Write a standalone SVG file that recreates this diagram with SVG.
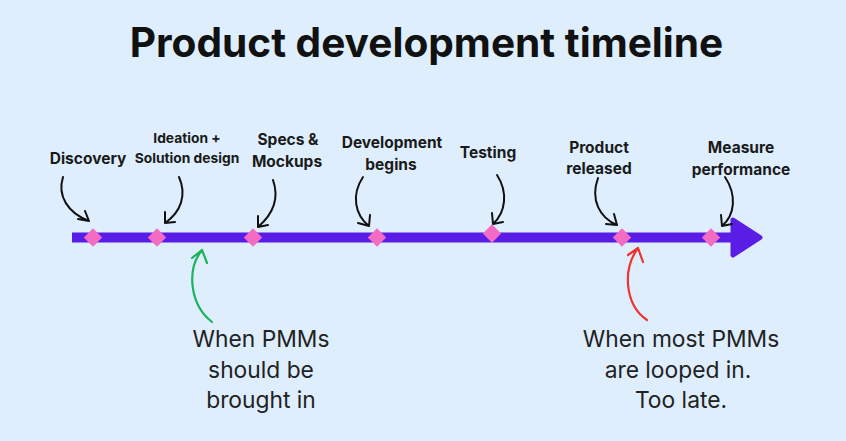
<svg xmlns="http://www.w3.org/2000/svg" width="846" height="441" viewBox="0 0 846 441">
<defs>
<style>
.title{font-family:Inter,"Noto Sans",sans-serif;font-weight:700;font-size:40.6px;fill:#111;text-anchor:middle}
.lbl{font-family:Inter,"Noto Sans",sans-serif;font-weight:700;font-size:15.5px;fill:#1a1a1a;text-anchor:middle}
.lbl2{font-family:Inter,"Noto Sans",sans-serif;font-weight:700;font-size:13.8px;fill:#1a1a1a;text-anchor:middle}
.note{font-family:Inter,"Noto Sans",sans-serif;font-weight:400;font-size:22.8px;fill:#222;text-anchor:middle}
.k{fill:none;stroke:#111;stroke-width:2;stroke-linecap:round;stroke-linejoin:round}
.dia{fill:#F46BC4}
</style>
</defs>
<rect width="846" height="441" fill="#DEEEFD"/>
<text class="title" x="426.5" y="57">Product development timeline</text>
<g id="timeline">
<rect x="72" y="232.5" width="666" height="10" fill="#5A1DE6"/>
<polygon points="733,220 760,237.5 733,255" fill="#5A1DE6" stroke="#5A1DE6" stroke-width="5" stroke-linejoin="round"/>
</g>
<g id="connectors">
<path class="k" d="M63,177 C57,196 68,213 89,221 M78,219 L89,221 L85,211"/>
<path class="k" d="M179,177 C187,195 181,212 165,223 M165,212 L165,223 L175,222"/>
<path class="k" d="M273,180 C280,200 272,215 258,227 M258,216 L258,227 L268,225"/>
<path class="k" d="M363,177 C351,195 355,215 369,226 M358,223 L369,226 L370,215"/>
<path class="k" d="M497,175 C508,192 506,212 493,224 M492,213 L493,224 L503,222"/>
<path class="k" d="M598,178 C590,200 600,218 617,225 M606,224 L617,225 L614,214"/>
<path class="k" d="M725,177 C737,195 735,215 722,226 M721,215 L722,226 L732,224"/>
<path d="M212,322 C190,305 186,270 202,250 M192,258 L202,250 L207,263" fill="none" stroke="#1DB35B" stroke-width="2.2" stroke-linecap="round" stroke-linejoin="round"/>
<path d="M647,320 C625,305 622,270 638,248 M628,255 L638,248 L643,262" fill="none" stroke="#EE3333" stroke-width="2.2" stroke-linecap="round" stroke-linejoin="round"/>
</g>
<g id="discovery"><rect class="dia" x="86.5" y="231" width="13" height="13" transform="rotate(45 93 237.5)"/><text class="lbl" x="88" y="164">Discovery</text></g>
<g id="ideation"><rect class="dia" x="150.5" y="231" width="13" height="13" transform="rotate(45 157 237.5)"/><text class="lbl2" x="187" y="143">Ideation +</text><text class="lbl2" x="187" y="163">Solution design</text></g>
<g id="specs"><rect class="dia" x="246.5" y="231" width="13" height="13" transform="rotate(45 253 237.5)"/><text class="lbl" x="288" y="145">Specs &amp;</text><text class="lbl" x="287" y="167">Mockups</text></g>
<g id="development"><rect class="dia" x="370.5" y="231" width="13" height="13" transform="rotate(45 377 237.5)"/><text class="lbl" x="392" y="148">Development</text><text class="lbl" x="391" y="170">begins</text></g>
<g id="testing"><rect class="dia" x="485.5" y="227" width="13" height="13" transform="rotate(45 492 233.5)"/><text class="lbl" x="488" y="158">Testing</text></g>
<g id="released"><rect class="dia" x="615.5" y="231" width="13" height="13" transform="rotate(45 622 237.5)"/><text class="lbl" x="599" y="153">Product</text><text class="lbl" x="599" y="174">released</text></g>
<g id="measure"><rect class="dia" x="704.5" y="231" width="13" height="13" transform="rotate(45 711 237.5)"/><text class="lbl" x="741" y="153">Measure</text><text class="lbl" x="741" y="175">performance</text></g>
<g id="note-should"><text class="note" x="261" y="347">When PMMs</text><text class="note" x="261" y="378">should be</text><text class="note" x="261" y="408">brought in</text></g>
<g id="note-late"><text class="note" x="681" y="347">When most PMMs</text><text class="note" x="678" y="378">are looped in.</text><text class="note" x="681" y="408">Too late.</text></g>
</svg>
